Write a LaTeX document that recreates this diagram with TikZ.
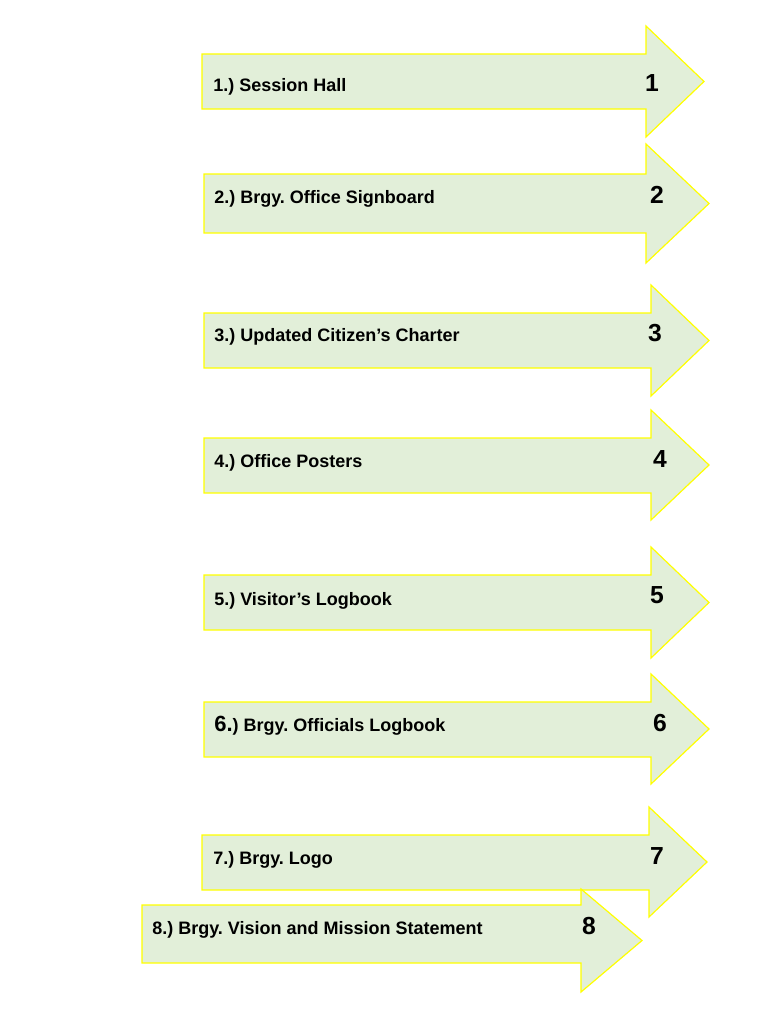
\documentclass[tikz,border=0pt]{standalone}
\usepackage{fontspec}
\setmainfont{Liberation Sans}
\usepackage{xcolor}
\usepackage{tikz}
\usetikzlibrary{positioning}
\frenchspacing
\definecolor{arrowgreen}{HTML}{E2EFD9}
\definecolor{arrowline}{HTML}{FFFF00}
\tikzstyle{itemarrow} = [draw=arrowline, fill=arrowgreen, line width=0.9pt, line join=miter]
\tikzstyle{itemtext} = [anchor=base west, inner sep=0pt, font=\fontsize{13.5}{16}\selectfont\bfseries]
\tikzstyle{itemno} = [anchor=base, inner sep=0pt, font=\fontsize{18.5}{21}\selectfont\bfseries]
% left, shaft top, shaft bottom, head x, head top, head bottom, tip x
\newcommand{\itemshape}[7]{%
  \draw[itemarrow] (#1,#2) -- (#4,#2) -- (#4,#5) -- (#7,{(#5+#6)/2}) -- (#4,#6) -- (#4,#3) -- (#1,#3) -- cycle;}

\begin{document}
\begin{tikzpicture}[x=0.75pt, y=-0.75pt]
    \useasboundingbox (0,0) rectangle (768,1024);
    % Arrows with their texts
    \itemshape{202}{54}{109}{646}{26}{137}{704}
    \node [itemtext] (hall) at (213,91) {1.) Session Hall};
    \node [itemno] (hallno) at (652,91) {1};

    \itemshape{204}{174}{233}{646}{144}{263}{709}
    \node [itemtext] (signboard) at (214,203) {2.) Brgy. Office Signboard};
    \node [itemno] (signboardno) at (657,203) {2};

    \itemshape{204}{313}{368}{651}{285}{396}{709}
    \node [itemtext] (charter) at (214,341) {3.) Updated Citizen’s Charter};
    \node [itemno] (charterno) at (655,341) {3};

    \itemshape{204}{438}{493}{651}{410}{520}{709}
    \node [itemtext] (posters) at (214,467) {4.) Office Posters};
    \node [itemno] (postersno) at (660,467) {4};

    \itemshape{204}{575}{630}{651}{547}{658}{709}
    \node [itemtext] (visitorlog) at (214,605) {5.) Visitor’s Logbook};
    \node [itemno] (visitorlogno) at (657,603) {5};

    \itemshape{204}{702}{757}{651}{674}{784}{709}
    \node [itemtext] (officiallog) at (214,731) {{\fontsize{16.5}{18}\selectfont 6.}) Brgy. Officials Logbook};
    \node [itemno] (officiallogno) at (660,731) {6};

    \itemshape{202}{835}{890}{649}{807}{917}{707}
    \node [itemtext] (logo) at (213,864) {7.) Brgy. Logo};
    \node [itemno] (logono) at (657,864) {7};

    \itemshape{142}{905}{963}{581}{889}{992}{642}
    \node [itemtext] (vision) at (152,934) {8.) Brgy. Vision and Mission Statement};
    \node [itemno] (visionno) at (589,934) {8};
\end{tikzpicture}
\end{document}
